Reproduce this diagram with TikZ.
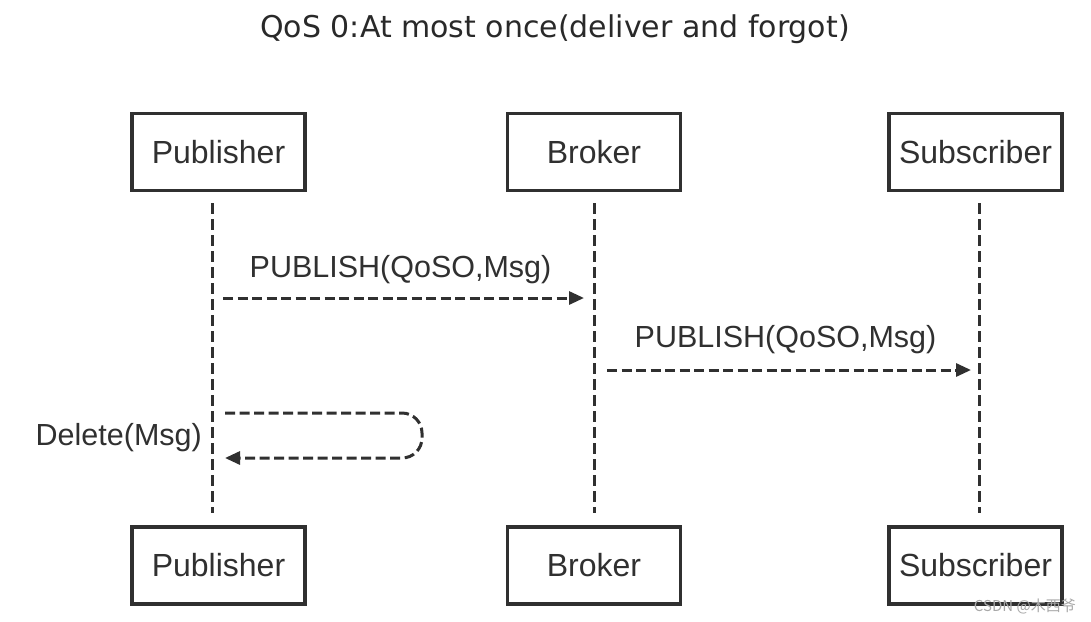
\documentclass[tikz,border=0pt]{standalone}
\usepackage{fontspec}
\setmainfont{Liberation Sans}
\newfontfamily\titlefont{DejaVu Sans}
\newfontfamily\cjkfont{Noto Sans CJK SC}
\usetikzlibrary{arrows.meta}
\definecolor{ink}{HTML}{303030}
\definecolor{wm}{HTML}{A8A8A8}
\tikzset{
  actor/.style={draw=ink, line width=3.6pt, minimum width=173pt, minimum height=77pt, inner sep=0pt, text=ink, font=\fontsize{32}{36}\selectfont},
  life/.style={draw=ink, line width=3.4pt, dash pattern=on 11pt off 5pt},
  msg/.style={draw=ink, line width=3pt, dash pattern=on 10pt off 4.5pt, -{Triangle[length=15pt,width=13pt]}},
  lbl/.style={text=ink, font=\fontsize{30.5}{34}\selectfont, inner sep=0pt},
}
\begin{document}
\begin{tikzpicture}[x=1pt,y=-1pt]
\useasboundingbox (0,0) rectangle (1091,621);
% title
\node[text=ink!85!black, font=\titlefont\fontsize{30}{33}\selectfont, anchor=base, inner sep=0pt] (title) at (555,37) {QoS 0:At most once(deliver and forgot)};
% actors
\node[actor] (pubT) at (218.5,152) {Publisher};
\node[actor] (brkT) at (594,152) {Broker};
\node[actor] (subT) at (975.5,152) {Subscriber};
\node[actor] (pubB) at (218.5,565.5) {Publisher};
\node[actor] (brkB) at (594,565.5) {Broker};
\node[actor] (subB) at (975.5,565.5) {Subscriber};
% lifelines
\coordinate (pubL1) at (212.7,203);
\coordinate (pubL2) at (212.7,513);
\coordinate (brkL1) at (594.3,203);
\coordinate (brkL2) at (594.3,513);
\coordinate (subL1) at (979.7,203);
\coordinate (subL2) at (979.7,513);
\draw[life] (pubL1) -- (pubL2);
\draw[life] (brkL1) -- (brkL2);
\draw[life] (subL1) -- (subL2);
% message 1
\coordinate (m1s) at (223,298);
\coordinate (m1e) at (584,298);
\draw[msg] (m1s) -- (m1e);
\node[lbl, anchor=base] (l1) at (400.5,277) {PUBLISH(QoSO,Msg)};
% message 2
\coordinate (m2s) at (607,370);
\coordinate (m2e) at (971,370);
\draw[msg] (m2s) -- (m2e);
\node[lbl, anchor=base] (l2) at (785.5,347) {PUBLISH(QoSO,Msg)};
% self message
\coordinate (d1) at (225,413);
\coordinate (d2) at (225,458);
\coordinate (dc1) at (422,413);
\coordinate (dc2) at (422,458);
\draw[msg, rounded corners=20pt] (d1) -- (dc1) -- (dc2) -- (d2);
\node[lbl, anchor=base east] (l3) at (202,445) {Delete(Msg)};
% watermark
\node[text=wm, font=\cjkfont\fontsize{15}{17}\selectfont, anchor=base east, inner sep=0pt] (wmk) at (1076,611) {CSDN @木西爷};
\end{tikzpicture}
\end{document}
